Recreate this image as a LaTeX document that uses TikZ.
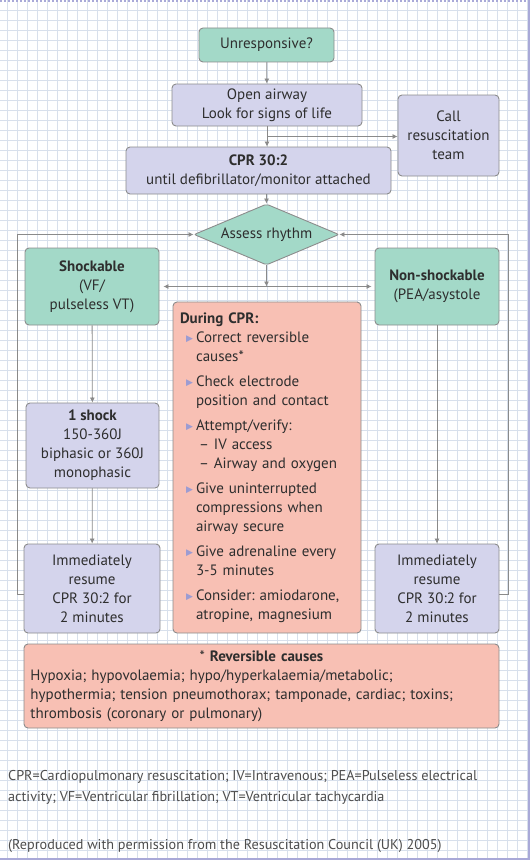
\documentclass[tikz,border=0pt]{standalone}
\usepackage{fontspec}
\setmainfont{PT Sans}
\newfontfamily\symfont{DejaVu Sans}
\usepackage{xcolor}
\usepackage{tikz}
\usetikzlibrary{arrows.meta,positioning,shapes.geometric,calc}
\definecolor{RTeal}{HTML}{A3D9C8}
\definecolor{RLilac}{HTML}{D4D4EC}
\definecolor{RSalmon}{HTML}{F8C0B4}
\definecolor{REdge}{HTML}{8C8C8C}
\definecolor{RLine}{HTML}{8A8A8A}
\definecolor{RGrid}{HTML}{D8E0EC}
\definecolor{RFrame}{HTML}{A9A9D8}
\definecolor{RBullet}{HTML}{9C9CD2}
\definecolor{RInk}{HTML}{2E2E2E}
\newcommand{\rbul}{\makebox[10pt][l]{\raisebox{1pt}{\fontsize{9}{9}\symfont\color{RBullet}▶}}}
\newcommand{\rind}{\hspace*{16pt}}
\frenchspacing

\begin{document}
\begin{tikzpicture}[
  x=1pt,y=-1pt,
  every node/.style={text=RInk},
  box/.style={draw=REdge,line width=0.9pt,rounded corners=4pt,align=center,
    inner sep=2pt,font=\fontsize{15}{19}\selectfont},
  teal/.style={box,fill=RTeal},
  lilac/.style={box,fill=RLilac},
  salmon/.style={box,fill=RSalmon},
  note/.style={align=left,inner sep=0pt,font=\fontsize{14.2}{21}\selectfont,text=RInk!85},
  gridline/.style={draw=RGrid,line width=0.6pt},
  arr/.style={-{Latex[length=5pt,width=5pt]},line width=0.8pt,draw=RLine}
]
  \useasboundingbox (0,0) rectangle (531,867);
  \fill[white] (0,0) rectangle (531,867);
  % squared paper
  \foreach \gx in {7,17,...,527} {\draw[gridline] (\gx,0) -- (\gx,859);}
  \foreach \gy in {10,20,...,850} {\draw[gridline] (0,\gy) -- (529,\gy);}
  \draw[RFrame,line width=1.2pt] (529,0) -- (529,859) -- (0,859);
  \draw[RFrame,line width=2pt,dotted] (0,1) -- (529,1);

  \node[teal,minimum width=135pt,minimum height=34pt] (unresp) at (266.5,45) {Unresponsive?};
  \node[lilac,minimum width=190pt,minimum height=42pt] (airway) at (267,105)
    {Open airway\\Look for signs of life};
  \node[lilac,minimum width=265pt,minimum height=47pt] (cpr) at (258.5,170.5)
    {\textbf{CPR 30:2}\\until defibrillator/monitor attached};
  \node[lilac,minimum width=101pt,minimum height=81pt] (call) at (448.5,135.5)
    {Call\\resuscitation\\team};
  \node[teal,diamond,aspect=2.4,inner sep=0pt,rounded corners=2pt,
    minimum width=145pt,minimum height=61pt] (assess) at (266.5,234.5) {Assess rhythm};
  \node[teal,minimum width=134pt,minimum height=77pt] (shock) at (92,286.5)
    {\textbf{Shockable}\\(VF/\\pulseless VT)};
  \node[teal,minimum width=124pt,minimum height=77pt] (nonshock) at (437,286.5)
    {\textbf{Non-shockable}\\(PEA/asystole};
  \node[salmon,minimum width=188pt,minimum height=331pt,align=left,
    inner xsep=0pt,text width=174pt] (during) at (267,467.5)
    {\textbf{During CPR:}\\
     \hspace*{6pt}\rbul Correct reversible\\ \rind causes*\\[6pt]
     \hspace*{6pt}\rbul Check electrode\\ \rind position and contact\\[6pt]
     \hspace*{6pt}\rbul Attempt/verify:\\ \rind\hspace*{3pt}– IV access\\ \rind\hspace*{3pt}– Airway and oxygen\\[6pt]
     \hspace*{6pt}\rbul Give uninterrupted\\ \rind compressions when\\ \rind airway secure\\[6pt]
     \hspace*{6pt}\rbul Give adrenaline every\\ \rind 3-5 minutes\\[6pt]
     \hspace*{6pt}\rbul Consider: amiodarone,\\ \rind atropine, magnesium};
  \node[lilac,minimum width=133pt,minimum height=85pt] (oneshock) at (92.5,445.5)
    {\textbf{1 shock}\\150-360J\\biphasic or 360J\\monophasic};
  \node[lilac,minimum width=136pt,minimum height=89pt] (resumel) at (92,588.5)
    {Immediately\\resume\\CPR 30:2 for\\2 minutes};
  \node[lilac,minimum width=124pt,minimum height=89pt] (resumer) at (437,588.5)
    {Immediately\\resume\\CPR 30:2 for\\2 minutes};
  \node[salmon,minimum width=475pt,minimum height=84pt,text width=462pt] (causes) at (261.5,686)
    {\centering * \textbf{Reversible causes}\par\raggedright
     Hypoxia; hypovolaemia; hypo/hyperkalaemia/metabolic;\\
     hypothermia; tension pneumothorax; tamponade, cardiac; toxins;\\
     thrombosis (coronary or pulmonary)\par};
  \node[note,anchor=west] (abbr) at (8,787.5)
    {CPR=Cardiopulmonary resuscitation; IV=Intravenous; PEA=Pulseless electrical\\
     activity; VF=Ventricular fibrillation; VT=Ventricular tachycardia};
  \node[note,anchor=west] (credit) at (8,846)
    {(Reproduced with permission from the Resuscitation Council (UK) 2005)};

  \coordinate (split) at ($(airway.south)!0.5!(cpr.north)$);
  \coordinate (fork) at (assess.south |- shock.east);
  \draw[arr] (unresp) -- (airway);
  \draw[arr] (airway) -- (airway.south |- cpr.north);
  \draw[arr] ([xshift=4pt]split) -- (call.west |- split);
  \draw[arr] (cpr.south -| assess.north) -- (assess.north);
  \draw[arr] (assess.south) -- (fork);
  \draw[{Latex[length=5pt,width=5pt]}-{Latex[length=5pt,width=5pt]},line width=0.8pt,draw=RLine]
    ([xshift=4pt]shock.east) -- ([xshift=-3pt]nonshock.west);
  \draw[arr] (shock) -- (oneshock);
  \draw[arr] (oneshock) -- (resumel);
  \draw[arr] (nonshock) -- (resumer);
  \draw[arr] ([yshift=-6pt]resumel.west) -- ++(-6,0) |- (assess.west);
  \draw[arr] ([yshift=-6pt]resumer.east) -- ++(9,0) |- (assess.east);
\end{tikzpicture}
\end{document}
